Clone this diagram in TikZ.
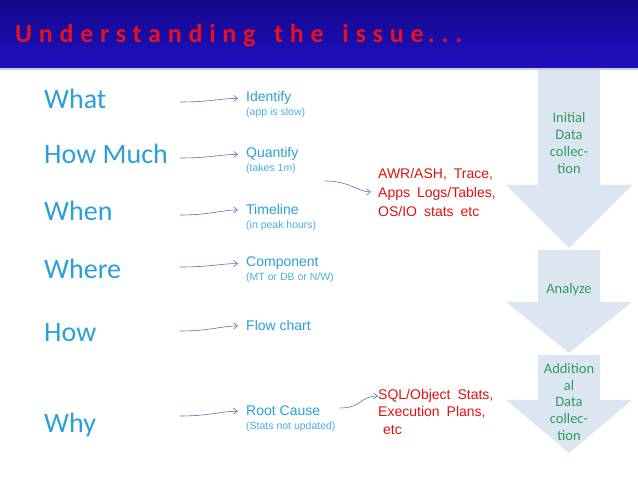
\documentclass[tikz,border=0pt]{standalone}
\usepackage{fontspec}
\setmainfont{Carlito}
\newfontfamily\arialfont{Liberation Sans}
\newfontfamily\titlefont{Carlito}[LetterSpace=26]
\newcommand\widespaces{\spaceskip=7pt plus 2pt\relax}
\usetikzlibrary{arrows.meta,calc}
\definecolor{headtop}{HTML}{14088A}
\definecolor{headbottom}{HTML}{1E0FC2}
\definecolor{titlered}{HTML}{E8101E}
\definecolor{labelblue}{HTML}{2A9FD8}
\definecolor{wavyblue}{HTML}{4F77B0}
\definecolor{noteblue}{HTML}{E01010}
\definecolor{arrowfill}{HTML}{DCE6F2}
\definecolor{stagegreen}{HTML}{2E9C5A}
\tikzset{
  asklabel/.style={anchor=base west, inner sep=0pt, text=labelblue,
    font=\fontsize{28}{32}\selectfont},
  steplabel/.style={anchor=base west, inner sep=0pt, text=labelblue,
    font=\arialfont\fontsize{14}{16}\selectfont},
  steplabelsmall/.style={anchor=base west, inner sep=0pt, text=labelblue!85,
    font=\arialfont\fontsize{10.5}{12}\selectfont},
  notebox/.style={inner sep=0pt, align=left, text=noteblue},
  stagearrow/.style={fill=arrowfill},
  stagetext/.style={align=center, text=stagegreen, inner sep=0pt,
    font=\fontsize{14.5}{16.7}\selectfont},
  wavyarrow/.style={-{Straight Barb[length=4pt,width=6pt]}, wavyblue, line width=0.6pt}
}
\begin{document}
\begin{tikzpicture}[x=1pt,y=-1pt]
\useasboundingbox (0,0) rectangle (638,478);
% header band
\shade[top color=headtop, bottom color=headbottom] (0,0) rectangle (638,68);
\draw[gray!40, line width=1.2pt] (0,69) -- (638,69);
\node[anchor=base west, inner sep=0pt, text=titlered,
  font=\titlefont\bfseries\fontsize{26}{30}\selectfont] (title) at (15,43)
  {Understanding\hspace{6pt} the\hspace{6pt} issue\,...};

% questions on the left
\node[asklabel] (what) at (44,109) {What};
\node[asklabel] (howmuch) at (44,164) {How Much};
\node[asklabel] (when) at (44,221) {When};
\node[asklabel] (where) at (44,279) {Where};
\node[asklabel] (how) at (44,342) {How};
\node[asklabel] (why) at (44,433) {Why};

% steps
\node[steplabel] (identify) at (246,102) {Identify};
\node[steplabelsmall] (identifysub) at (246,116) {(app is slow)};
\node[steplabel] (quantify) at (246,158) {Quantify};
\node[steplabelsmall] (quantifysub) at (246,172) {(takes 1m)};
\node[steplabel] (timeline) at (246,215) {Timeline};
\node[steplabelsmall] (timelinesub) at (246,229) {(in peak hours)};
\node[steplabel] (component) at (246,267) {Component};
\node[steplabelsmall] (componentsub) at (246,281) {(MT or DB or N/W)};
\node[steplabel] (flowchart) at (246,331) {Flow chart};
\node[steplabel] (rootcause) at (246,416) {Root Cause};
\node[steplabelsmall] (rootcausesub) at (246,430) {(Stats not updated)};

% data sources
\node[notebox, anchor=west,
  font=\arialfont\fontsize{14}{19}\selectfont\widespaces] (awr) at (378,192)
  {AWR/ASH, Trace,\\Apps Logs/Tables,\\OS/IO stats etc};
\node[notebox, anchor=north west,
  font=\arialfont\fontsize{14}{17.5}\selectfont\widespaces] (sql) at (378,389)
  {SQL/Object Stats,\\Execution Plans,\\\hspace{5pt}etc};

% wavy arrows
\coordinate (whatarr) at (180,102);
\coordinate (howmucharr) at (180,158);
\coordinate (whenarr) at (180,215);
\coordinate (wherearr) at (180,267);
\coordinate (howarr) at (180,331);
\coordinate (whyarr) at (180,416);
\coordinate (quantifyarr) at (325,181);
\coordinate (rootcausearr) at (340,408);
\draw[wavyarrow, shorten >=8pt] (whatarr) .. controls +(30,0) and +(-25,0) .. (identify.west);
\draw[wavyarrow, shorten >=8pt] (howmucharr) .. controls +(30,0) and +(-25,0) .. (quantify.west);
\draw[wavyarrow, shorten >=8pt] (whenarr) .. controls +(30,0) and +(-25,0) .. (timeline.west);
\draw[wavyarrow, shorten >=8pt] (wherearr) .. controls +(30,0) and +(-25,0) .. (component.west);
\draw[wavyarrow, shorten >=8pt] (howarr) .. controls +(30,0) and +(-25,0) .. (flowchart.west);
\draw[wavyarrow, shorten >=8pt] (whyarr) .. controls +(30,0) and +(-25,0) .. (rootcause.west);
\draw[wavyarrow, shorten >=7pt] (quantifyarr) .. controls +(25,0) and +(-20,0) .. (awr.west);
\draw[wavyarrow] (rootcausearr) .. controls +(22,0) and +(-18,0) .. ([yshift=-7pt]sql.north west);

% stage arrows on the right
\fill[stagearrow] (538,70) -- (600,70) -- (600,185) -- (632,185) -- (569,248)
  -- (506,185) -- (538,185) -- cycle;
\fill[stagearrow] (538,250) -- (600,250) -- (600,302) -- (632,302) -- (569,353)
  -- (506,302) -- (538,302) -- cycle;
\fill[stagearrow] (538,355) -- (600,355) -- (600,400) -- (632,400) -- (569,453)
  -- (506,400) -- (538,400) -- cycle;
\node[stagetext] (initial) at (569,143) {Initial\\Data\\collec-\\tion};
\node[stagetext] (analyze) at (569,290) {Analyze};
\node[stagetext] (additional) at (569,402) {Addition\\al\\Data\\collec-\\tion};
\end{tikzpicture}
\end{document}
